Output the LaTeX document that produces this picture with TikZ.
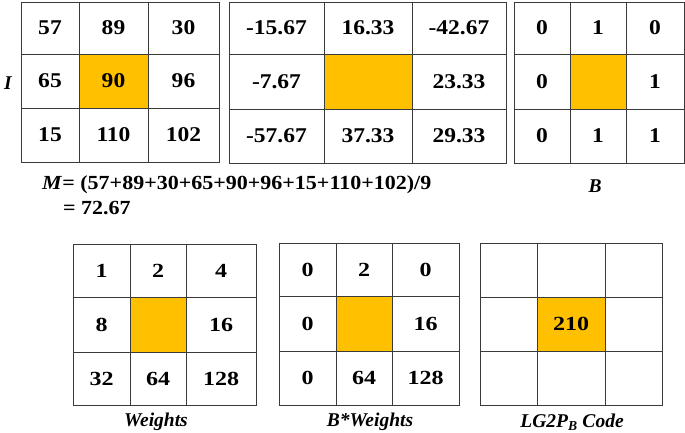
\documentclass[tikz,border=0pt]{standalone}
\usepackage{fontspec}
\setmainfont{Liberation Serif}
\newfontfamily\topnum[FakeStretch=1.12]{Liberation Serif}
\newfontfamily\botnum[FakeStretch=1.2]{Liberation Serif}
\newfontfamily\eqfont[FakeStretch=1.1]{Liberation Serif}
\definecolor{gold}{HTML}{FFC000}
\definecolor{gridline}{HTML}{3A3A3A}
\tikzset{
  cell/.style={draw=gridline, line width=0.9pt, inner sep=0pt, outer sep=0pt, rectangle},
  toptext/.style={font=\topnum\fontsize{21}{24}\selectfont\bfseries},
  bottext/.style={font=\botnum\fontsize{20}{23}\selectfont\bfseries},
  lbl/.style={font=\fontsize{19.5}{22}\selectfont\bfseries\itshape, inner sep=0pt},
}
\newcommand\mkgrid[5]{% #1 name, #2 xs, #3 ys, #4 entries, #5 text style
  \foreach [count=\k from 0] \t in {#4} {
    \pgfmathtruncatemacro\cc{mod(\k,3)}
    \pgfmathtruncatemacro\rr{div(\k,3)}
    \pgfmathsetmacro\xl{{#2}[\cc]}
    \pgfmathsetmacro\xr{{#2}[\cc+1]}
    \pgfmathsetmacro\yt{{#3}[\rr]}
    \pgfmathsetmacro\yb{{#3}[\rr+1]}
    \pgfmathsetmacro\xc{(\xl+\xr)/2}
    \pgfmathsetmacro\yc{(\yt+\yb)/2}
    \ifnum\k=4 \def\cf{gold}\else\def\cf{white}\fi
    \node[cell, #5, fill=\cf, minimum width={\xr-\xl}, minimum height={\yb-\yt}] (#1-\k) at (\xc,\yc) {\t};
  }
}
\begin{document}
\begin{tikzpicture}[x=1pt,y=-1pt]
\useasboundingbox (0,0) rectangle (685,433);
\fill[white] (0,0) rectangle (685,433);
% top grids
\mkgrid{I}{21,79,148,219}{2,54,108,162}{57,89,30,65,90,96,15,110,102}{toptext}
\mkgrid{D}{229,324,412,506}{2,54,109,163}{-15.67,16.33,-42.67,-7.67,{},23.33,-57.67,37.33,29.33}{toptext}
\mkgrid{B}{514,570,626,684}{2,54,109,163}{0,1,0,0,{},1,0,1,1}{toptext}
% bottom grids
\mkgrid{W}{73,130,186,256}{244,297,352,405}{1,2,4,8,{},16,32,64,128}{bottext}
\mkgrid{BW}{279,336,392,459}{243,296,351,405}{0,2,0,0,{},16,0,64,128}{bottext}
\mkgrid{L}{480,537,605,662}{243,297,351,405}{{},{},{},{},210,{},{},{},{}}{bottext}
% labels
\node[lbl] (lblI) at (8,83) {I};
\node[lbl] (lblB) at (595,186) {B};
\node[lbl] (lblW) at (156,422) {Weights};
\node[lbl] (lblBW) at (370,422) {B*Weights};
\node[lbl] (lblL) at (572,422) {LG2P\textsubscript{B} Code};
% mean equation
\node[anchor=west, inner sep=0pt, font=\eqfont\fontsize{20}{23}\selectfont\bfseries] (eq1) at (42,185) {\textit{M}= (57+89+30+65+90+96+15+110+102)/9};
\node[anchor=west, inner sep=0pt, font=\eqfont\fontsize{20}{23}\selectfont\bfseries] (eq2) at (63,208) {= 72.67};
\end{tikzpicture}
\end{document}
